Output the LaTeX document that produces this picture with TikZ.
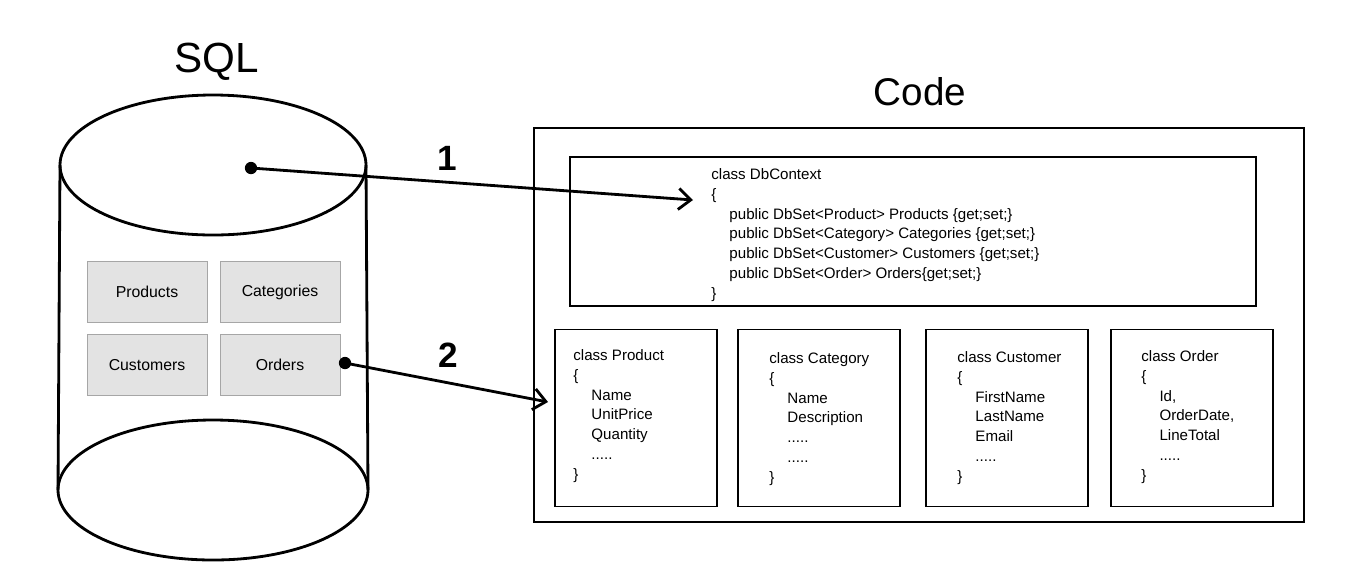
\documentclass[tikz,border=0pt]{standalone}
\usepackage{fontspec}
\usetikzlibrary{arrows.meta}
\setmainfont{Liberation Sans}
\newcommand{\ind}{\hspace{1.2em}}
\begin{document}
\begin{tikzpicture}[x=0.02cm,y=-0.02cm,
  tbl/.style={draw=gray!70,fill=gray!22,minimum width=2.4cm,minimum height=1.22cm,font=\fontsize{9}{11}\selectfont},
  cls/.style={draw=black,line width=1pt,minimum width=3.24cm,minimum height=3.54cm},
  code/.style={align=left,anchor=north west,font=\fontsize{8.6}{11.3}\selectfont,inner sep=0pt},
  arr/.style={line width=1.6pt,-{Straight Barb[length=7pt,width=12pt]}},
  dot/.style={circle,fill=black,inner sep=0pt,minimum size=7pt}]
\useasboundingbox (0,0) rectangle (1358,586);
\node[font=\fontsize{24}{28}\selectfont] (sql) at (217,62) {SQL};
\node[font=\fontsize{22}{26}\selectfont] (codet) at (920,92) {Code};
% cylinder
\draw[line width=1.6pt] (213,165) ellipse (153 and 70);
\draw[line width=1.6pt] (213,490) ellipse (155 and 70);
\draw[line width=1.6pt] (60,165) -- (58,490);
\draw[line width=1.6pt] (366,165) -- (368,490);
\node[tbl] (prod) at (147,292) {Products};
\node[tbl] (cat) at (280,292) {Categories};
\node[tbl] (cust) at (147,365) {Customers};
\node[tbl] (ord) at (280,365) {Orders};
% code
\draw[line width=1.6pt] (534,128) rectangle (1304,522);
\draw[line width=1pt] (570,157) rectangle (1256,306);
\node[code] (ctx) at (711,168) {class DbContext\\\{\\
\ind public DbSet<Product> Products \{get;set;\}\\
\ind public DbSet<Category> Categories \{get;set;\}\\
\ind public DbSet<Customer> Customers \{get;set;\}\\
\ind public DbSet<Order> Orders\{get;set;\}\\\}};
\node[cls] (c1) at (636,418) {};
\node[cls] (c2) at (819,418) {};
\node[cls] (c3) at (1007,418) {};
\node[cls] (c4) at (1192,418) {};
\node[code] at (573,349) {class Product\\\{\\\ind Name\\\ind UnitPrice\\\ind Quantity\\\ind .....\\\}};
\node[code] at (769,352) {class Category\\\{\\\ind Name\\\ind Description\\\ind .....\\\ind .....\\\}};
\node[code] at (957,351) {class Customer\\\{\\\ind FirstName\\\ind LastName\\\ind Email\\\ind .....\\\}};
\node[code] at (1141,350) {class Order\\\{\\\ind Id,\\\ind OrderDate,\\\ind LineTotal\\\ind .....\\\}};
% arrows
\node[dot] (d1) at (251,168) {};
\node[dot] (d2) at (345,363) {};
\coordinate (e1) at (693,200);
\coordinate (e2) at (548,402);
\draw[arr] (d1.center) -- (e1);
\draw[arr] (d2.center) -- (e2);
\node[font=\fontsize{20}{22}\selectfont\bfseries] (l1) at (447,158) {1};
\node[font=\fontsize{20}{22}\selectfont\bfseries] (l2) at (448,355) {2};
\end{tikzpicture}
\end{document}
